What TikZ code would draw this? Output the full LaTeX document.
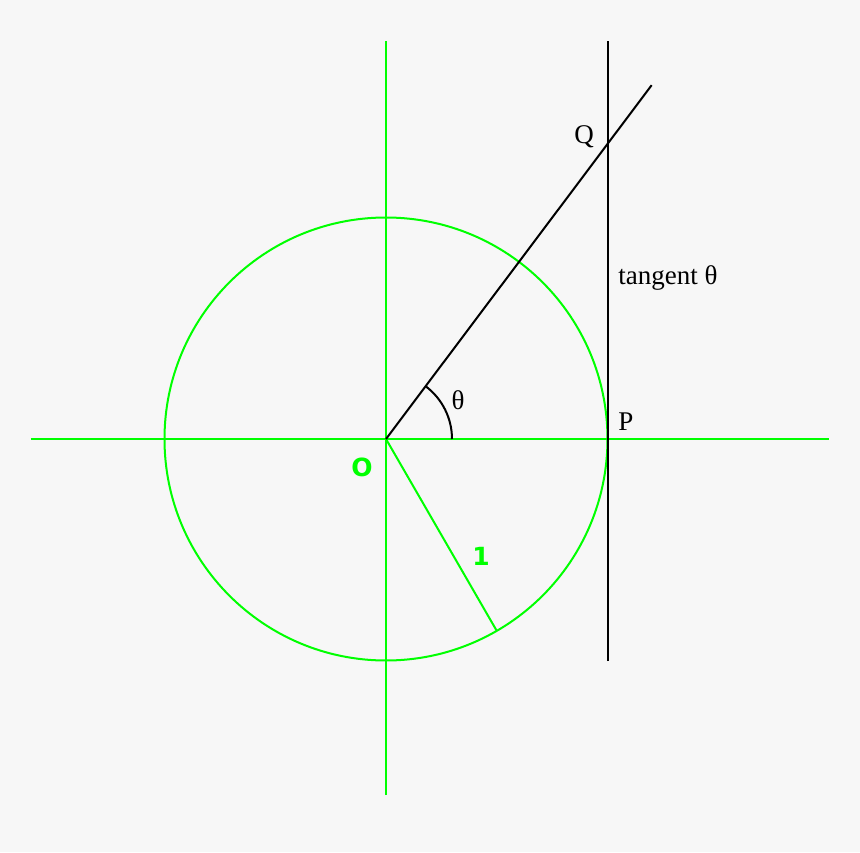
\documentclass[tikz,border=0pt]{standalone}
\usepackage{fontspec}
\setmainfont{Liberation Serif}
\newfontfamily\greenfont{DejaVu Sans}
\definecolor{bggray}{HTML}{F7F7F7}
\definecolor{axisgreen}{HTML}{00FF00}

\tikzset{
  axisline/.style={color=axisgreen, line width=2pt},
  blackline/.style={color=black, line width=2pt},
  serifnode/.style={font=\fontsize{27}{32}\selectfont, inner sep=0pt},
  greennode/.style={font=\greenfont\bfseries\fontsize{25}{30}\selectfont, text=axisgreen, inner sep=0pt}
}

\begin{document}
\begin{tikzpicture}[x=1pt,y=1pt]

\fill[bggray] (-386,-413) rectangle (474,439);

\coordinate (O) at (0,0);
\coordinate (xl) at (-355,0);
\coordinate (xr) at (443,0);
\coordinate (yt) at (0,398);
\coordinate (yb) at (0,-356);
\coordinate (P) at (221.5,0);
\coordinate (tt) at (221.5,398);
\coordinate (tb) at (221.5,-222);
\coordinate (Q) at (221.5,294.5);
\coordinate (rayend) at (53.1:442.5);
\coordinate (rad) at (-60:221.5);

%%%%%%%%%%%%%%%%%%%%%%%%%%%%%%%%%%%%%%%%%%%%
\draw[axisline] (xl) to (xr);
\draw[axisline] (yb) to (yt);
\draw[axisline] (O) circle (221.5);
\draw[axisline] (O) to (rad);

\draw[blackline] (tb) to (tt);
\draw[blackline] (O) to (rayend);
\draw[blackline] (66,0) arc (0:53.1:66);

\node[serifnode] (labQ) at (198,302) {Q};
\node[serifnode] (labtan) at (282,161) {tangent θ};
\node[serifnode] (labth) at (72,39) {θ};
\node[serifnode] (labP) at (240,17) {P};
\node[greennode] (labO) at (-24,-28) {O};
\node[greennode] (labone) at (95,-117) {1};

\end{tikzpicture}
\end{document}
